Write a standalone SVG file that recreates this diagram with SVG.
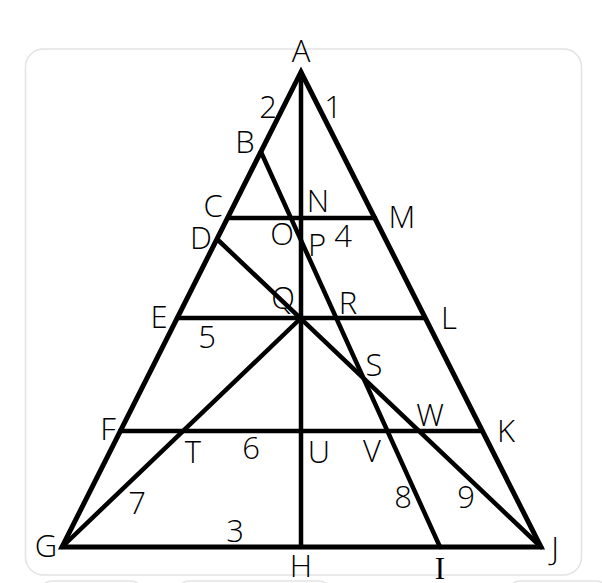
<svg xmlns="http://www.w3.org/2000/svg" width="602" height="583" viewBox="0 0 602 583">
<style>
.card{fill:#fff;stroke:#e3e3e3;stroke-width:1.5}
.ln{stroke:#000;stroke-width:4.5;stroke-linecap:round;fill:none}
.ol{stroke:#000;stroke-width:5;stroke-linejoin:miter;fill:none}
text{font-family:"Open Sans","Noto Sans","DejaVu Sans",sans-serif;font-size:31px;font-weight:300;fill:#000;text-anchor:middle}
.serif{font-family:"Liberation Serif",serif;font-weight:400}
</style>
<rect width="602" height="583" fill="#fff"/>
<rect class="card" x="25.5" y="49" width="556" height="526" rx="18"/>
<rect class="card" x="40" y="581" width="103" height="30" rx="12"/>
<rect class="card" x="177" y="581" width="154" height="30" rx="12"/>
<rect class="card" x="508" y="581" width="100" height="30" rx="12"/>
<g id="connectors">
<polygon class="ol" points="301,72 62,547 541,547"/>
<line class="ln" x1="301" y1="72" x2="301" y2="547"/>
<line class="ln" x1="228" y1="218" x2="375" y2="218"/>
<line class="ln" x1="177" y1="318" x2="425" y2="318"/>
<line class="ln" x1="120" y1="431" x2="482" y2="431"/>
<line class="ln" x1="261" y1="152" x2="440" y2="547"/>
<line class="ln" x1="218" y1="240" x2="541" y2="547"/>
<line class="ln" x1="62" y1="547" x2="301" y2="318"/>
</g>
<g id="labels">
<text x="301" y="62">A</text>
<text x="268" y="118">2</text>
<text x="333" y="118">1</text>
<text x="245" y="153">B</text>
<text x="213" y="217">C</text>
<text x="318" y="212">N</text>
<text x="402" y="228">M</text>
<text x="201" y="249">D</text>
<text x="282" y="245">O</text>
<text x="317" y="256">P</text>
<text x="343" y="247">4</text>
<text x="159" y="328">E</text>
<text x="283" y="309">Q</text>
<text x="348" y="314">R</text>
<text x="449" y="329">L</text>
<text x="207" y="348">5</text>
<text x="374" y="376">S</text>
<text x="430" y="426">W</text>
<text x="506" y="442">K</text>
<text x="108" y="440">F</text>
<text x="193" y="463">T</text>
<text x="251" y="459">6</text>
<text x="319" y="463">U</text>
<text x="372" y="462">V</text>
<text x="137" y="514">7</text>
<text x="403" y="508">8</text>
<text x="466" y="508">9</text>
<text x="235" y="542">3</text>
<text x="46" y="557">G</text>
<text x="301" y="577">H</text>
<text class="serif" x="440" y="579">I</text>
<text x="555" y="559">J</text>
</g>
</svg>
